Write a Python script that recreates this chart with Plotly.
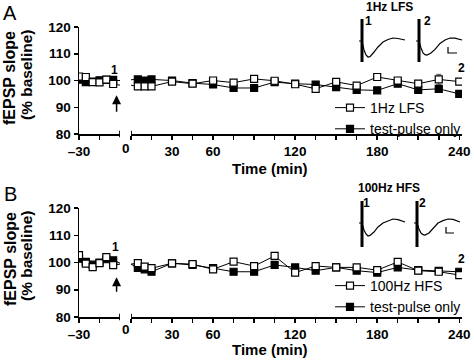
import plotly.graph_objects as go

W, H = 474, 361

# ---------------- data ----------------
pre_t = [-30, -25, -20, -15, -10, -5]
post_t = [5, 10, 15, 30, 45, 60, 75, 90, 105, 120, 135, 150, 165, 180, 195, 210, 225, 240]

a_lfs_pre = [101.5, 101.3, 99.4, 99.3, 100.3, 98.7]
a_lfs_post = [97.8, 97.8, 97.8, 99.6, 98.8, 100.0, 99.2, 100.6, 99.9, 98.6, 96.9, 99.5,
              98.1, 101.3, 100.0, 98.8, 100.4, 99.6]
a_lfs_err = [0.7, 0.6, 0.6, 0.6, 0.6, 0.7, 0.8, 0.8, 0.8, 0.7, 1.0, 0.7, 0.7, 0.9, 0.8, 0.7,
             0.7, 0.6, 0.8, 1.0, 0.8, 0.8, 1.9, 1.0, 0.8, 0.9, 0.8]
a_tp_pre = [100.3, 99.4, 99.6, 100.1, 100.2, 100.2]
a_tp_post = [100.4, 100.0, 100.4, 100.0, 99.0, 98.5, 97.2, 97.2, 99.4, 98.8, 98.5, 97.5,
             96.5, 96.3, 98.8, 96.5, 96.9, 95.0]
a_tp_err = [0.5] * 24

b_hfs_pre = [102.7, 99.6, 98.3, 99.8, 102.0, 99.0]
b_hfs_post = [99.8, 98.5, 97.9, 99.7, 99.4, 97.5, 100.3, 98.7, 102.4, 96.3, 98.7, 98.2,
              98.2, 97.2, 100.2, 97.0, 96.6, 95.4]
b_hfs_err = [0.8, 0.6, 0.6, 0.6, 0.7, 0.6, 0.7, 0.7, 0.6, 0.6, 0.7, 1.0, 0.8, 1.0, 1.2,
             0.8, 1.0, 0.9, 1.0, 0.8, 0.9, 0.8, 0.8, 0.8]
b_tp_pre = [101.4, 100.2, 99.2, 100.0, 101.2, 100.8]
b_tp_post = [98.0, 97.5, 96.6, 99.7, 99.1, 97.9, 96.6, 96.6, 99.1, 98.2, 97.0, 98.2,
             97.0, 96.3, 98.2, 97.2, 96.9, 96.6]
b_tp_err = [0.6] * 24

x_tickvals = [0, 15, 30, 45, 60, 75, 90, 105, 120, 135, 150, 165, 180, 195, 210, 225, 240]
x_ticktext = ["", "", "30", "", "60", "", "", "", "120", "", "", "", "180", "", "", "", "240"]
y_tickvals = [80, 90, 100, 110, 120]

# inset EPSP waveforms (ms, mV)
wave_ms = [-1.5, 0, 1, 2, 3, 4, 6, 8, 10.5, 13, 15.5, 18, 21.5]
a_wave1 = [0, 0, -0.45, -0.7, -0.8, -0.78, -0.55, -0.3, -0.05, 0.075, 0.15, 0.125, 0.05]
a_wave2 = [0, 0, -0.35, -0.6, -0.68, -0.7, -0.6, -0.42, -0.12, 0.05, 0.15, 0.14, 0.05]
b_wave1 = [0, 0, -0.35, -0.55, -0.65, -0.62, -0.45, -0.2, 0.0, 0.12, 0.2, 0.17, 0.05]
b_wave2 = [0, 0, -0.3, -0.5, -0.58, -0.6, -0.5, -0.3, 0.0, 0.12, 0.2, 0.18, 0.05]
a_artifact = [1.1, -1.05]
b_artifact = [1.1, -1.2]
a_offset2 = 28.5
b_offset2 = 27.5
a_scalebar_x = [43, 43, 47.5]
a_scalebar_y = [-0.3, -0.6, -0.6]
b_scalebar_x = [42, 42, 46]
b_scalebar_y = [-0.2, -0.5, -0.5]

FONT = "Liberation Sans, Arial, Helvetica, sans-serif"


def px(x):
    return x / W


def py(y):
    return 1 - y / H


fig = go.Figure()


def add_series(t, y, err, xa_list, ya, name, filled, legend):
    for i, xa in enumerate(xa_list):
        fig.add_trace(go.Scatter(
            x=t, y=y, xaxis=xa, yaxis=ya, mode="lines+markers", name=name,
            line=dict(color="black", width=1),
            marker=dict(symbol="square", size=7,
                        color="black" if filled else "white",
                        line=dict(color="black", width=1.2)),
            error_y=dict(type="data", array=err, visible=True, color="#555",
                         thickness=1, width=2.5),
            showlegend=(i == 1), legend=legend,
        ))


t_all = pre_t + post_t
add_series(t_all, a_tp_pre + a_tp_post, a_tp_err, ["x", "x2"], "y", "test-pulse only", True, "legend")
add_series(t_all, a_lfs_pre + a_lfs_post, a_lfs_err, ["x", "x2"], "y", "1Hz LFS", False, "legend")
add_series(t_all, b_tp_pre + b_tp_post, b_tp_err, ["x3", "x4"], "y2", "test-pulse only", True, "legend2")
add_series(t_all, b_hfs_pre + b_hfs_post, b_hfs_err, ["x3", "x4"], "y2", "100Hz HFS", False, "legend2")


def add_inset(xa, ya, w1, w2, art, off, sbx, sby):
    line = dict(color="black", width=1.2)
    for o, w in ((0, w1), (off, w2)):
        fig.add_trace(go.Scatter(x=[v + o for v in wave_ms], y=w, xaxis=xa, yaxis=ya,
                                 mode="lines", line=line, showlegend=False, hoverinfo="skip"))
        fig.add_trace(go.Scatter(x=[o, o], y=art, xaxis=xa, yaxis=ya, mode="lines",
                                 line=dict(color="black", width=3), showlegend=False,
                                 hoverinfo="skip"))
    fig.add_trace(go.Scatter(x=sbx, y=sby, xaxis=xa, yaxis=ya, mode="lines",
                             line=line, showlegend=False, hoverinfo="skip"))


add_inset("x5", "y3", a_wave1, a_wave2, a_artifact, a_offset2, a_scalebar_x, a_scalebar_y)
add_inset("x6", "y4", b_wave1, b_wave2, b_artifact, b_offset2, b_scalebar_x, b_scalebar_y)

tickfont = dict(family=FONT, size=13.5, color="black", weight="bold")
axis_common = dict(showline=True, linecolor="black", linewidth=1.5, ticks="outside",
                   ticklen=4, tickwidth=1.5, tickcolor="black", showgrid=False,
                   zeroline=False, tickfont=tickfont, fixedrange=True, automargin=False)
hidden = dict(visible=False, fixedrange=True, automargin=False)

left_dom = [px(79), px(120)]
right_dom = [px(131), px(462)]
ya_dom = [py(134), py(27)]
yb_dom = [py(317), py(208)]

layout = dict(
    width=W, height=H, margin=dict(l=0, r=0, t=0, b=0, pad=0, autoexpand=False),
    paper_bgcolor="white", plot_bgcolor="rgba(0,0,0,0)",
    font=dict(family=FONT, color="black"),
    xaxis=dict(domain=left_dom, range=[-30, 0], anchor="y", tickvals=[-30, -15],
               ticktext=["\u201330", ""], **axis_common),
    xaxis2=dict(domain=right_dom, range=[0, 242], anchor="y", tickvals=x_tickvals,
                ticktext=x_ticktext, **axis_common),
    yaxis=dict(domain=ya_dom, range=[80, 120], anchor="x", tickvals=y_tickvals, **axis_common),
    xaxis3=dict(domain=left_dom, range=[-30, 0], anchor="y2", tickvals=[-30, -15],
                ticktext=["\u201330", ""], **axis_common),
    xaxis4=dict(domain=right_dom, range=[0, 242], anchor="y2", tickvals=x_tickvals,
                ticktext=x_ticktext, **axis_common),
    yaxis2=dict(domain=yb_dom, range=[80, 120], anchor="x3", tickvals=y_tickvals, **axis_common),
    xaxis5=dict(domain=[px(355), px(470)], range=[-3.5, 54], anchor="y3", **hidden),
    yaxis3=dict(domain=[py(66), py(15)], range=[-1.25, 1.3], anchor="x5", **hidden),
    xaxis6=dict(domain=[px(355), px(470)], range=[-3.5, 54], anchor="y4", **hidden),
    yaxis4=dict(domain=[py(250), py(195)], range=[-1.35, 1.4], anchor="x6", **hidden),
    legend=dict(x=px(330), y=py(92), xanchor="left", yanchor="top", bgcolor="rgba(0,0,0,0)",
                font=dict(family=FONT, size=14, color="black"), itemwidth=30,
                tracegroupgap=0, traceorder="reversed"),
    legend2=dict(x=px(330), y=py(270), xanchor="left", yanchor="top", bgcolor="rgba(0,0,0,0)",
                 font=dict(family=FONT, size=14, color="black"), itemwidth=30,
                 tracegroupgap=0, traceorder="reversed"),
    showlegend=True,
)
fig.update_layout(**layout)

# axis break bars
shapes = []
for xa, ya in (("x", "y"), ("x2", "y"), ("x3", "y2"), ("x4", "y2")):
    shapes.append(dict(type="line", xref=xa, yref=ya + " domain", x0=0, x1=0, y0=-0.03, y1=0.03,
                       line=dict(color="black", width=1.8)))
fig.update_layout(shapes=shapes)

ann = []


def text(x, y, s, size, bold=True, angle=0, xanchor="center"):
    ann.append(dict(xref="paper", yref="paper", x=px(x), y=py(y), text=s, showarrow=False,
                    xanchor=xanchor, yanchor="middle", textangle=angle, borderpad=0,
                    font=dict(family=FONT, size=size, color="black",
                              weight="bold" if bold else "normal")))


for off, lab, stim in ((0, "A", "1Hz LFS"), (181, "B", "100Hz HFS")):
    text(10, 13 + off, lab, 20, bold=False)
    text(10, 78 + off, "fEPSP slope", 16, angle=-90)
    text(26, 75 + off, "(% baseline)", 15.5, angle=-90)
    text(126, 148 + off, "0", 13.5)
    text(270, 168 + off, "Time (min)", 15)
    text(389, 7 + off, stim, 12)
ann_pos = [(368, 21, "1"), (427, 21, "2"), (114, 70, "1"), (461, 68, "2"),
           (366, 203, "1"), (422, 203, "2"), (115, 247, "1"), (461, 259, "2")]
for x, y, s in ann_pos:
    text(x, y, s, 12)

# stimulation arrows
ann.append(dict(xref="x", yref="y", x=-2.5, y=94.5, ax=0, ay=18, text="", showarrow=True,
                arrowhead=2, arrowsize=1.2, arrowwidth=1.5, arrowcolor="black"))
ann.append(dict(xref="x3", yref="y2", x=-2.5, y=94.6, ax=0, ay=16, text="", showarrow=True,
                arrowhead=2, arrowsize=1.2, arrowwidth=1.5, arrowcolor="black"))
fig.update_layout(annotations=ann)

fig.write_html("out.html", config={"displayModeBar": False, "staticPlot": True},
               post_script="document.body.style.margin='0';document.body.style.overflow='hidden';")
